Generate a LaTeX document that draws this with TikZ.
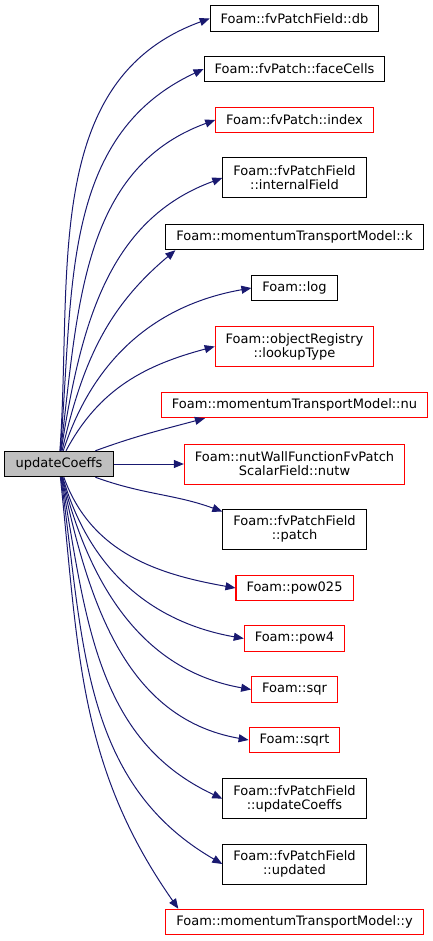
\documentclass[tikz,border=0pt]{standalone}
\usepackage{fontspec}
\setmainfont{DejaVu Sans}
\usetikzlibrary{arrows.meta, positioning, calc}
\definecolor{edgeblue}{HTML}{191970}
\definecolor{grayfill}{HTML}{BFBFBF}
\definecolor{undoc}{HTML}{FF0000}

\begin{document}
\begin{tikzpicture}[x=1pt, y=-1pt, font=\fontsize{13}{14}\selectfont,
      fn/.style={draw=black, line width=1pt, fill=white, minimum height=25.5pt, inner xsep=10.5pt, align=center},
      rd/.style={fn, draw=undoc},
      two/.style={minimum height=40pt},
      e/.style={draw=edgeblue, line width=1pt, -{Triangle[length=10pt, width=8pt]}}]
    \useasboundingbox (0,0) rectangle (433,941);
    % caller
    \node[fn, fill=grayfill, minimum width=108.6pt, inner xsep=4pt] (src) at (59,464) {updateCoeffs};
    % callees
    \node[fn] (db) at (294.5,18.5) {Foam::fvPatchField::db};
    \node[fn] (fc) at (294.5,69) {Foam::fvPatch::faceCells};
    \node[rd] (idx) at (294.5,120) {Foam::fvPatch::index};
    \node[fn, two] (intf) at (294.5,178) {Foam::fvPatchField\\::internalField};
    \node[fn] (k) at (294.5,237) {Foam::momentumTransportModel::k};
    \node[fn] (log) at (294.5,288) {Foam::log};
    \node[rd, two] (look) at (294.5,346.5) {Foam::objectRegistry\\::lookupType};
    \node[rd] (nu) at (294.5,405) {Foam::momentumTransportModel::nu};
    \node[rd, two] (nutw) at (294.5,464) {Foam::nutWallFunctionFvPatch\\ScalarField::nutw};
    \node[fn, two] (patch) at (294.5,529) {Foam::fvPatchField\\::patch};
    \node[rd] (p025) at (294.5,588) {Foam::pow025};
    \node[rd] (p4) at (294.5,638.5) {Foam::pow4};
    \node[rd] (sqr) at (294.5,689.5) {Foam::sqr};
    \node[rd] (sqrt) at (294.5,740) {Foam::sqrt};
    \node[fn, two] (upc) at (294.5,798.7) {Foam::fvPatchField\\::updateCoeffs};
    \node[fn, two] (upd) at (294.5,864) {Foam::fvPatchField\\::updated};
    \node[rd] (y) at (294.5,922) {Foam::momentumTransportModel::y};
    % edge ends that are not on the west side
    \coordinate (kin) at ([xshift=10pt]k.south west);
    \coordinate (nuin) at ([xshift=44pt]nu.south west);
    \coordinate (patchin) at ([yshift=-3pt]patch.north west);
    \coordinate (yin) at ([xshift=13pt]y.north west);
    % calls
    \foreach \t/\o/\i in {db/86/200, fc/85/205, idx/83/200, intf/81/200, log/72/190, look/62/195,
        p025/-70/170, p4/-74/170, sqr/-76/170, sqrt/-78/170, upc/-80/155, upd/-82/150}
      \draw[e] (src) to[out=\o, in=\i] (\t.west);
    \foreach \t/\o/\i in {kin/77/220, nuin/20/195, patchin/-20/160, yin/-84/125}
      \draw[e] (src) to[out=\o, in=\i] (\t);
    \draw[e] (src) -- (nutw);
  \end{tikzpicture}
\end{document}
